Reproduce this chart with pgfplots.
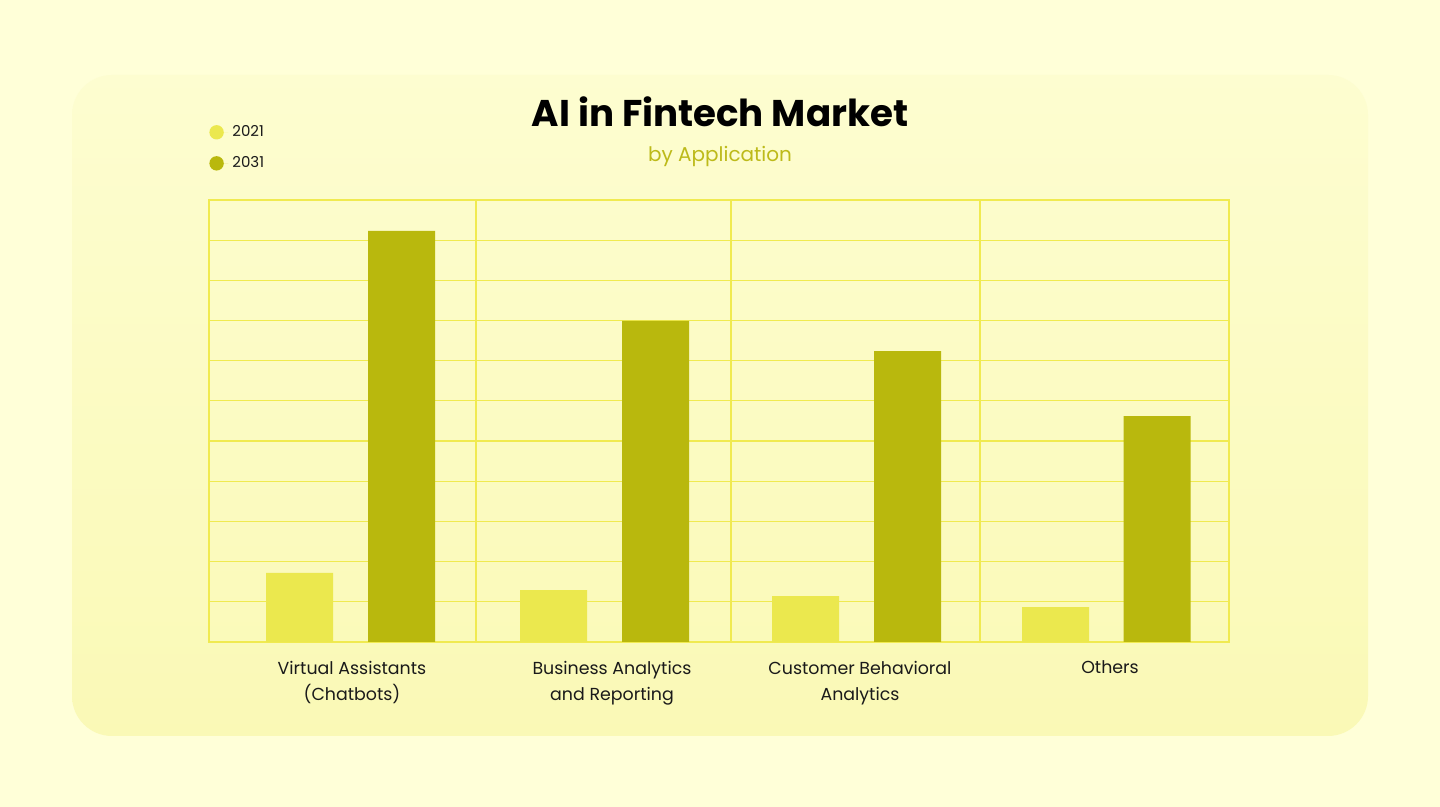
\documentclass[border=0pt]{standalone}
\usepackage{fontspec}
\setmainfont{Poppins}
\usepackage{pgfplots}
\pgfplotsset{compat=1.18}
\definecolor{pagebg}{HTML}{FFFFD8}
\definecolor{cardtop}{HTML}{FDFDD0}
\definecolor{cardbot}{HTML}{FAF9B6}
\definecolor{gridc}{HTML}{F0EA50}
\definecolor{c21}{HTML}{EBE84E}
\definecolor{c31}{HTML}{B9B80D}
\definecolor{txt}{HTML}{1A1A1A}
\definecolor{subc}{HTML}{BDBA1A}
\begin{document}
\begin{tikzpicture}
\fill[pagebg] (0,0) rectangle (720pt,403.5pt);
\shade[top color=cardtop, bottom color=cardbot, rounded corners=20pt] (36pt,35.5pt) rectangle (684pt,366pt);
\node[anchor=base, font=\fontsize{18.6}{20}\selectfont\bfseries, text=black] at (360pt,340pt) {AI in Fintech Market};
\node[anchor=base, font=\fontsize{10}{12}\selectfont, text=subc] at (360pt,322.5pt) {by Application};
\begin{axis}[
  at={(104.5pt,82.5pt)}, anchor=south west,
  scale only axis, width=510pt, height=221pt,
  xmin=0, xmax=1020, ymin=0, ymax=11,
  axis line style={gridc, line width=0.6pt},
  ytick={0,...,11}, yticklabels={},
  ymajorgrids, grid style={gridc, line width=0.6pt},
  xtick={143,403,651,901},
  xticklabels={Virtual Assistants\\(Chatbots), Business Analytics\\and Reporting, Customer Behavioral\\Analytics, Others},
  xticklabel style={align=center, font=\fontsize{8.7}{13}\selectfont, text=txt, yshift=-6pt},
  minor xtick={267,522,771}, xminorgrids,
  minor grid style={gridc, line width=0.6pt},
  major tick length=0pt, minor tick length=0pt,
  legend style={at={(0,1.179)}, anchor=north west, draw=none, fill=none,
    font=\fontsize{7.5}{8}\selectfont, text=txt, row sep=4.5pt, inner sep=0pt},
  legend cell align=left,
]
\addplot[ybar, bar width=67, bar shift=0pt, fill=c21, draw=none,
  legend image code/.code={\path (0pt,0pt) -- (9.5pt,0pt); \fill[c21] (3.6pt,0pt) circle (3.6pt);}]
  coordinates {(90.5,1.72) (344.5,1.29) (596.5,1.14) (846.5,0.87)};
\addlegendentry{2021}
\addplot[ybar, bar width=67, bar shift=0pt, fill=c31, draw=none,
  legend image code/.code={\path (0pt,0pt) -- (9.5pt,0pt); \fill[c31] (3.6pt,0pt) circle (3.6pt);}]
  coordinates {(192.5,10.23) (446.5,7.99) (698.5,7.24) (948,5.62)};
\addlegendentry{2031}
\end{axis}
\end{tikzpicture}
\end{document}
